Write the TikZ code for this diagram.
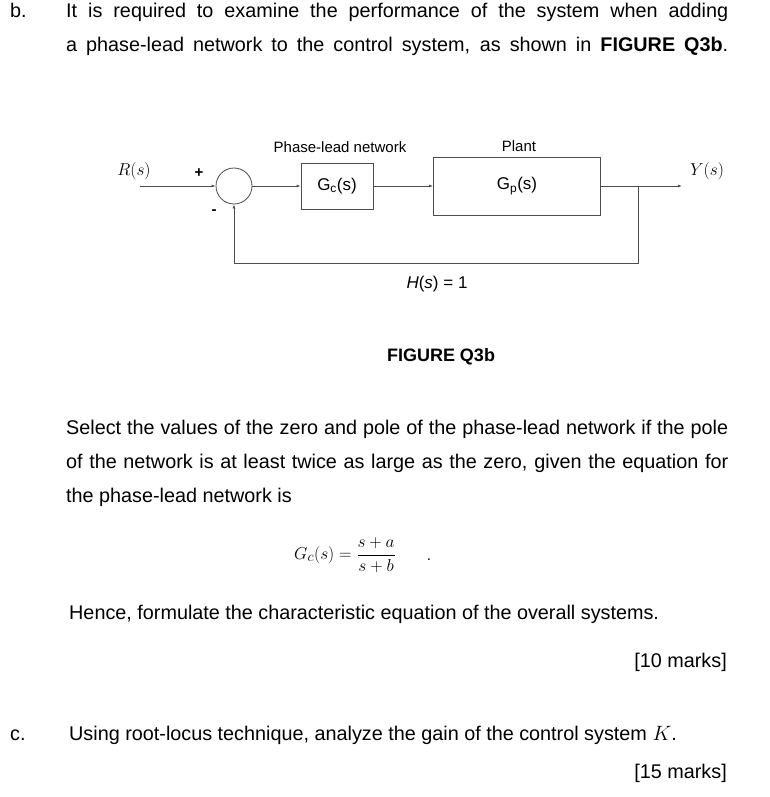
\documentclass[tikz,border=0pt]{standalone}
\usepackage{amsmath}
\usepackage{fontspec}
\setmainfont{Liberation Sans}
\usetikzlibrary{arrows.meta}
\newcommand{\jline}[1]{\makebox[662pt][s]{#1}}
\begin{document}
\begin{tikzpicture}[x=1pt,y=-1pt,
  txt/.style={anchor=base west,inner sep=0pt,font=\fontsize{19.8}{22}\selectfont},
  lbl/.style={inner sep=0pt,font=\fontsize{15}{17}\selectfont},
  blk/.style={draw=black!70,line width=0.8pt},
  sig/.style={draw=black!70,line width=0.8pt,-{Latex[length=4pt,width=3pt]}}]
\useasboundingbox (0,0) rectangle (770,797);
\node[txt] (b) at (10,18) {b.};
\node[txt] (l1) at (66,18) {\jline{It is required to examine the performance of the system when adding}};
\node[txt] (l2) at (66,52) {\jline{a phase-lead network to the control system, as shown in \textbf{FIGURE Q3b}.}};
% diagram
\coordinate (rin) at (140,186);
\node[circle,blk,minimum size=36pt,inner sep=0pt] (sum) at (234,186) {};
\node[blk,minimum width=72pt,minimum height=46pt,lbl,font=\fontsize{17}{19}\selectfont] (gc) at (337,186) {G\textsubscript{c}(s)};
\node[blk,minimum width=167pt,minimum height=58pt,lbl,font=\fontsize{17}{19}\selectfont] (gp) at (517,186) {G\textsubscript{p}(s)};
\coordinate (br) at (638,186);
\coordinate (out) at (682,186);
\coordinate (fb1) at (638,263);
\coordinate (fb2) at (234,263);
\draw[sig] (rin) -- (sum.west);
\draw[sig] (sum.east) -- (gc.west);
\draw[sig] (gc.east) -- (gp.west);
\draw[blk] (gp.east) -- (br);
\draw[sig] (br) -- (out);
\draw[blk] (br) -- (fb1) -- (fb2);
\draw[sig] (fb2) -- (sum.south);
\node[lbl,font=\fontsize{17}{19}\selectfont] (rs) at (134,171) {$R(s)$};
\node[lbl,font=\fontsize{17}{19}\selectfont] (ys) at (707,171) {$Y(s)$};
\node[lbl,font=\bfseries\fontsize{15}{17}\selectfont] (plus) at (199,173) {+};
\node[lbl,font=\bfseries\fontsize{15}{17}\selectfont] (minus) at (214,212) {-};
\node[lbl] (pl) at (340,147) {Phase-lead network};
\node[lbl] (plant) at (519,146) {Plant};
\node[lbl,font=\fontsize{17}{19}\selectfont] (hs) at (437,284) {\textit{H}(\textit{s}) = 1};
\node[lbl,font=\bfseries\fontsize{18}{20}\selectfont] (fig) at (441,357) {FIGURE Q3b};
\node[txt] (p1) at (66,434) {\jline{Select the values of the zero and pole of the phase-lead network if the pole}};
\node[txt] (p2) at (66,468) {\jline{of the network is at least twice as large as the zero, given the equation for}};
\node[txt] (p3) at (66,502) {the phase-lead network is};
\node[lbl,font=\fontsize{19}{21}\selectfont] (eq) at (345,555) {$G_c(s)=\dfrac{s+a}{s+b}$};
\node[lbl] (dot) at (429,560) {.};
\node[txt] (h) at (69,619) {Hence, formulate the characteristic equation of the overall systems.};
\node[txt,anchor=base east] (m1) at (727,667) {[10 marks]};
\node[txt] (c) at (10,740) {c.};
\node[txt] (cl) at (69,740) {Using root-locus technique, analyze the gain of the control system $K$.};
\node[txt,anchor=base east] (m2) at (727,778) {[15 marks]};
\end{tikzpicture}
\end{document}
